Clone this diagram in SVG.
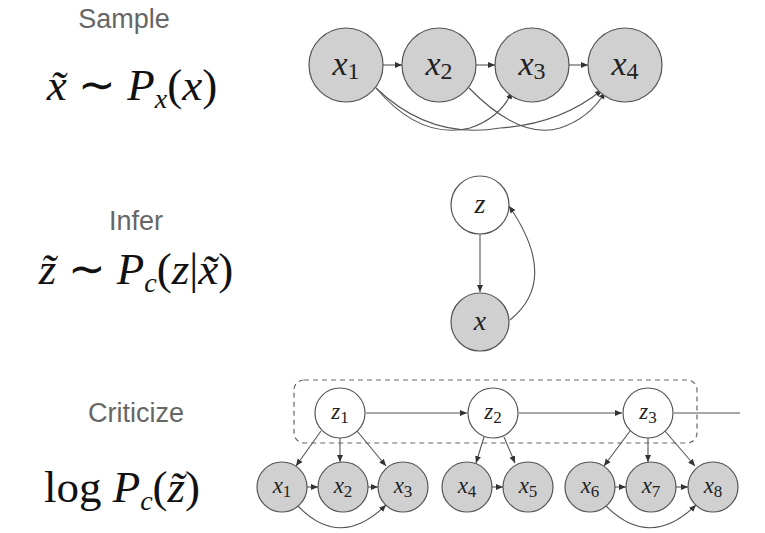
<svg xmlns="http://www.w3.org/2000/svg" width="765" height="533" viewBox="0 0 765 533">
<style>
.lbl{font-family:"Liberation Sans",Arial,sans-serif;font-size:27px;fill:#666;text-anchor:middle}
.math{font-family:"Liberation Serif","Times New Roman",serif;font-size:45px;fill:#111;text-anchor:middle}
.o{fill:#d0d0d0;stroke:#555;stroke-width:1.2}
.w{fill:#fff;stroke:#555;stroke-width:1.2}
.t{font-family:"Liberation Serif","Times New Roman",serif;font-style:italic;fill:#222;text-anchor:middle}
.big{font-size:34px}.sm{font-size:24px}
.s{font-style:normal}
.e{fill:none;stroke:#555;stroke-width:1.1;marker-end:url(#a)}
</style>
<defs><marker id="a" markerWidth="8" markerHeight="8" refX="7" refY="4" orient="auto" markerUnits="userSpaceOnUse"><path d="M0,1 L7,4 L0,7 z" fill="#333"/></marker></defs>
<rect width="765" height="533" fill="#fff"/>
<g id="labels">
<text class="lbl" x="124" y="28">Sample</text>
<text class="math" x="132" y="100"><tspan font-style="italic">x̃</tspan> ∼ <tspan font-style="italic">P</tspan><tspan font-size="28" font-style="italic" dy="8">x</tspan><tspan dy="-8">(</tspan><tspan font-style="italic">x</tspan>)</text>
<text class="lbl" x="136" y="230">Infer</text>
<text class="math" x="136" y="284"><tspan font-style="italic">z̃</tspan> ∼ <tspan font-style="italic">P</tspan><tspan font-size="28" font-style="italic" dy="8">c</tspan><tspan dy="-8">(</tspan><tspan font-style="italic">z</tspan>|<tspan font-style="italic">x̃</tspan>)</text>
<text class="lbl" x="136" y="422">Criticize</text>
<text class="math" x="122" y="502">log <tspan font-style="italic">P</tspan><tspan font-size="28" font-style="italic" dy="8">c</tspan><tspan dy="-8">(</tspan><tspan font-style="italic">z̃</tspan>)</text>
</g>
<g id="connectors">
<line class="e" x1="383" y1="65" x2="402" y2="65"/>
<line class="e" x1="476" y1="65" x2="495" y2="65"/>
<line class="e" x1="569" y1="65" x2="588" y2="65"/>
<path class="e" d="M376,88 Q420,140 470,128 Q500,118 512,92"/>
<path class="e" d="M376,88 Q430,140 500,128 Q560,124 602,90"/>
<path class="e" d="M469,88 Q520,140 560,128 Q590,118 605,92"/>
<line class="e" x1="480" y1="234" x2="480" y2="292"/>
<path class="e" d="M510,320 Q560,280 509,206"/>
<line class="e" x1="366" y1="413" x2="467" y2="413"/>
<line class="e" x1="519" y1="413" x2="622" y2="413"/>
<line x1="674" y1="413" x2="740" y2="413" stroke="#555" stroke-width="1.1"/>
<line class="e" x1="321" y1="431" x2="296" y2="466"/>
<line class="e" x1="340" y1="438" x2="340" y2="462"/>
<line class="e" x1="357" y1="431" x2="386" y2="466"/>
<line class="e" x1="484" y1="437" x2="476" y2="463"/>
<line class="e" x1="504" y1="437" x2="515" y2="463"/>
<line class="e" x1="630" y1="431" x2="604" y2="466"/>
<line class="e" x1="648" y1="438" x2="648" y2="462"/>
<line class="e" x1="665" y1="431" x2="695" y2="466"/>
<line class="e" x1="307" y1="487" x2="318" y2="487"/>
<line class="e" x1="368" y1="487" x2="378" y2="487"/>
<line class="e" x1="492" y1="487" x2="503" y2="487"/>
<line class="e" x1="615" y1="487" x2="626" y2="487"/>
<line class="e" x1="676" y1="487" x2="688" y2="487"/>
<path class="e" d="M298,506 Q340,550 386,505"/>
<path class="e" d="M606,506 Q650,550 696,505"/>
<rect x="294" y="380" width="403" height="63" rx="10" fill="none" stroke="#666" stroke-width="1.2" stroke-dasharray="5,4"/>
</g>
<g id="n-x1"><circle class="o" cx="346" cy="65" r="37"/><text class="t big" x="346" y="75">x<tspan class="s sm" dy="4">1</tspan></text></g>
<g id="n-x2"><circle class="o" cx="439" cy="65" r="37"/><text class="t big" x="439" y="75">x<tspan class="s sm" dy="4">2</tspan></text></g>
<g id="n-x3"><circle class="o" cx="532" cy="65" r="37"/><text class="t big" x="532" y="75">x<tspan class="s sm" dy="4">3</tspan></text></g>
<g id="n-x4"><circle class="o" cx="625" cy="65" r="37"/><text class="t big" x="625" y="75">x<tspan class="s sm" dy="4">4</tspan></text></g>
<g id="n-z"><circle class="w" cx="480" cy="205" r="29"/><text class="t" font-size="28" x="480" y="213">z</text></g>
<g id="n-x"><circle class="o" cx="480" cy="322" r="29"/><text class="t" font-size="28" x="480" y="330">x</text></g>
<g id="n-z1"><circle class="w" cx="340" cy="413" r="25"/><text class="t" font-size="23" x="340" y="419">z<tspan class="s" font-size="17" dy="4">1</tspan></text></g>
<g id="n-z2"><circle class="w" cx="493" cy="413" r="25"/><text class="t" font-size="23" x="493" y="419">z<tspan class="s" font-size="17" dy="4">2</tspan></text></g>
<g id="n-z3"><circle class="w" cx="648" cy="413" r="25"/><text class="t" font-size="23" x="648" y="419">z<tspan class="s" font-size="17" dy="4">3</tspan></text></g>
<g id="n-b1"><circle class="o" cx="282" cy="487" r="25"/><text class="t" font-size="23" x="282" y="493">x<tspan class="s" font-size="17" dy="4">1</tspan></text></g>
<g id="n-b2"><circle class="o" cx="343" cy="487" r="25"/><text class="t" font-size="23" x="343" y="493">x<tspan class="s" font-size="17" dy="4">2</tspan></text></g>
<g id="n-b3"><circle class="o" cx="403" cy="487" r="25"/><text class="t" font-size="23" x="403" y="493">x<tspan class="s" font-size="17" dy="4">3</tspan></text></g>
<g id="n-b4"><circle class="o" cx="467" cy="487" r="25"/><text class="t" font-size="23" x="467" y="493">x<tspan class="s" font-size="17" dy="4">4</tspan></text></g>
<g id="n-b5"><circle class="o" cx="528" cy="487" r="25"/><text class="t" font-size="23" x="528" y="493">x<tspan class="s" font-size="17" dy="4">5</tspan></text></g>
<g id="n-b6"><circle class="o" cx="590" cy="487" r="25"/><text class="t" font-size="23" x="590" y="493">x<tspan class="s" font-size="17" dy="4">6</tspan></text></g>
<g id="n-b7"><circle class="o" cx="651" cy="487" r="25"/><text class="t" font-size="23" x="651" y="493">x<tspan class="s" font-size="17" dy="4">7</tspan></text></g>
<g id="n-b8"><circle class="o" cx="713" cy="487" r="25"/><text class="t" font-size="23" x="713" y="493">x<tspan class="s" font-size="17" dy="4">8</tspan></text></g>
</svg>
